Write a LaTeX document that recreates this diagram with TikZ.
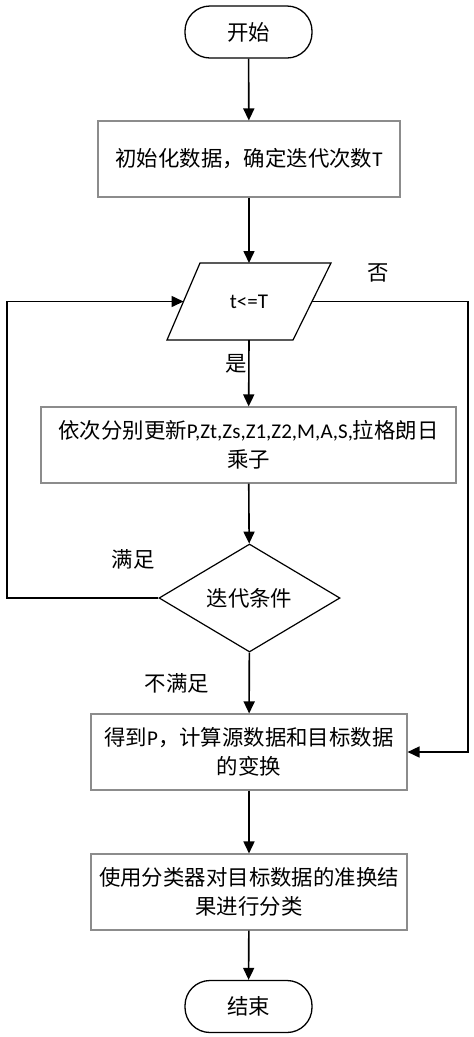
\documentclass[tikz,border=0pt]{standalone}
\usepackage{fontspec}
\setmainfont{Carlito}
\newfontfamily\cjk[Scale=1.02]{Noto Sans CJK SC}
\usetikzlibrary{arrows.meta,shapes.geometric}
\begin{document}
\begin{tikzpicture}[x=1pt,y=-1pt,
  font=\fontsize{21}{29}\selectfont,
  term/.style={draw=black, line width=1.3pt, rounded corners=25pt, minimum width=127pt, minimum height=52pt, inner sep=0pt},
  proc/.style={draw=black!45, line width=1.1pt, minimum height=76pt, inner sep=0pt, align=center},
  shapeline/.style={draw=black, line width=1.2pt},
  flow/.style={line width=1.6pt, -{Triangle[length=12pt,width=11pt]}},
  lbl/.style={inner sep=0pt}]
\useasboundingbox (0,0) rectangle (474,1037);

\node[term] (start) at (248.5,32) {\cjk 开始};
\node[proc, minimum width=302pt] (init) at (249,159) {{\cjk 初始化数据，确定迭代次数}T};

\draw[shapeline] (200,263) -- (331,263) -- (293,340) -- (167,340) -- cycle;
\node[lbl] (cond) at (249,301.5) {t<=T};
\coordinate (cond-n) at (249,263);
\coordinate (cond-s) at (249,340);
\coordinate (cond-w) at (183.5,301.5);
\coordinate (cond-e) at (312,301.5);

\node[proc, minimum width=415pt] (upd) at (248.5,445) {{\cjk 依次分别更新}P,Zt,Zs,Z1,Z2,M,A,S,{\cjk 拉格朗日}\\{\cjk 乘子}};
\node[diamond, shapeline, minimum width=181pt, minimum height=108pt, inner sep=0pt] (iter) at (249.5,598) {\cjk 迭代条件};
\node[proc, minimum width=316pt] (res) at (249,752) {{\cjk 得到}P{\cjk ，计算源数据和目标数据}\\{\cjk 的变换}};
\node[proc, minimum width=316pt] (cls) at (249,892) {{\cjk 使用分类器对目标数据的准换结}\\{\cjk 果进行分类}};
\node[term] (end) at (248.5,1006.5) {\cjk 结束};

\node[lbl] (no) at (378,273) {\cjk 否};
\node[lbl] (yes) at (236,364) {\cjk 是};
\node[lbl] (sat) at (133,559) {\cjk 满足};
\node[lbl] (unsat) at (177,683) {\cjk 不满足};

\coordinate (loopL) at (7,598);
\coordinate (loopR) at (468,301.5);

\draw[flow] (start) -- (init);
\draw[flow] (init) -- (cond-n);
\draw[flow] (cond-s) -- (upd);
\draw[flow] (upd) -- (iter);
\draw[flow] (iter) -- (res);
\draw[flow] (res) -- (cls);
\draw[flow] (cls) -- (end);
\draw[flow] (iter.west) -- (loopL) |- (cond-w);
\draw[flow] (cond-e) -- (loopR) |- (res.east);
\end{tikzpicture}
\end{document}
